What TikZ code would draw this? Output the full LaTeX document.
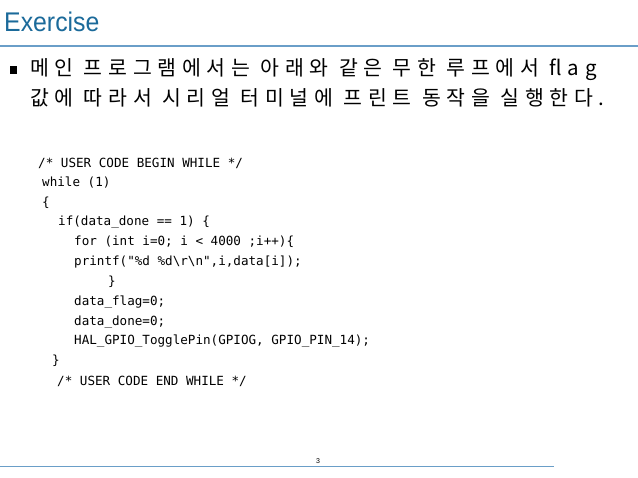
\documentclass[tikz,border=0pt]{standalone}
\usepackage{fontspec}
\setmainfont{Liberation Sans}
\newfontfamily\kor[LetterSpace=28]{Noto Sans CJK KR}
\newfontfamily\codefont{DejaVu Sans Mono}
\definecolor{titleblue}{HTML}{1B6A9A}
\definecolor{lineblue}{HTML}{6A9EC8}
\begin{document}
\begin{tikzpicture}[x=1pt,y=-1pt,
  code/.style={anchor=west,inner sep=0pt,font=\codefont\fontsize{12.6}{14}\selectfont},
  kortext/.style={anchor=west,inner sep=0pt,font=\kor\fontsize{20.5}{24}\selectfont}]
\useasboundingbox (0,0) rectangle (638,478);
\node[anchor=west,inner sep=0pt,text=titleblue,xscale=0.92,font=\fontsize{27}{30}\selectfont] (title) at (4,22) {Exercise};
\draw[lineblue,line width=1.2pt] (0,46) -- (638,46);
\fill (10,66) rectangle (17,74);
\node[kortext] (k1) at (30,70) {메인 프로그램에서는 아래와 같은 무한 루프에서 flag};
\node[kortext] (k2) at (30,98) {값에 따라서 시리얼 터미널에 프린트 동작을 실행한다.};
\node[code] (c1) at (38,163) {/* USER CODE BEGIN WHILE */};
\node[code] (c2) at (42,183) {while (1)};
\node[code] (c3) at (42,203) {\{};
\node[code] (c4) at (58,222) {if(data\_done == 1) \{};
\node[code] (c5) at (74,242) {for (int i=0; i < 4000 ;i++)\{};
\node[code] (c6) at (74,262) {printf("\%d \%d\textbackslash r\textbackslash n",i,data[i]);};
\node[code] (c7) at (108,282) {\}};
\node[code] (c8) at (74,302) {data\_flag=0;};
\node[code] (c9) at (74,322) {data\_done=0;};
\node[code] (c10) at (74,341) {HAL\_GPIO\_TogglePin(GPIOG, GPIO\_PIN\_14);};
\node[code] (c11) at (52,361) {\}};
\node[code] (c12) at (57,381) {/* USER CODE END WHILE */};
\node[inner sep=0pt,font=\fontsize{7}{8}\selectfont] (pg) at (318,461) {3};
\draw[lineblue,line width=1pt] (0,467) -- (554,467);
\end{tikzpicture}
\end{document}
